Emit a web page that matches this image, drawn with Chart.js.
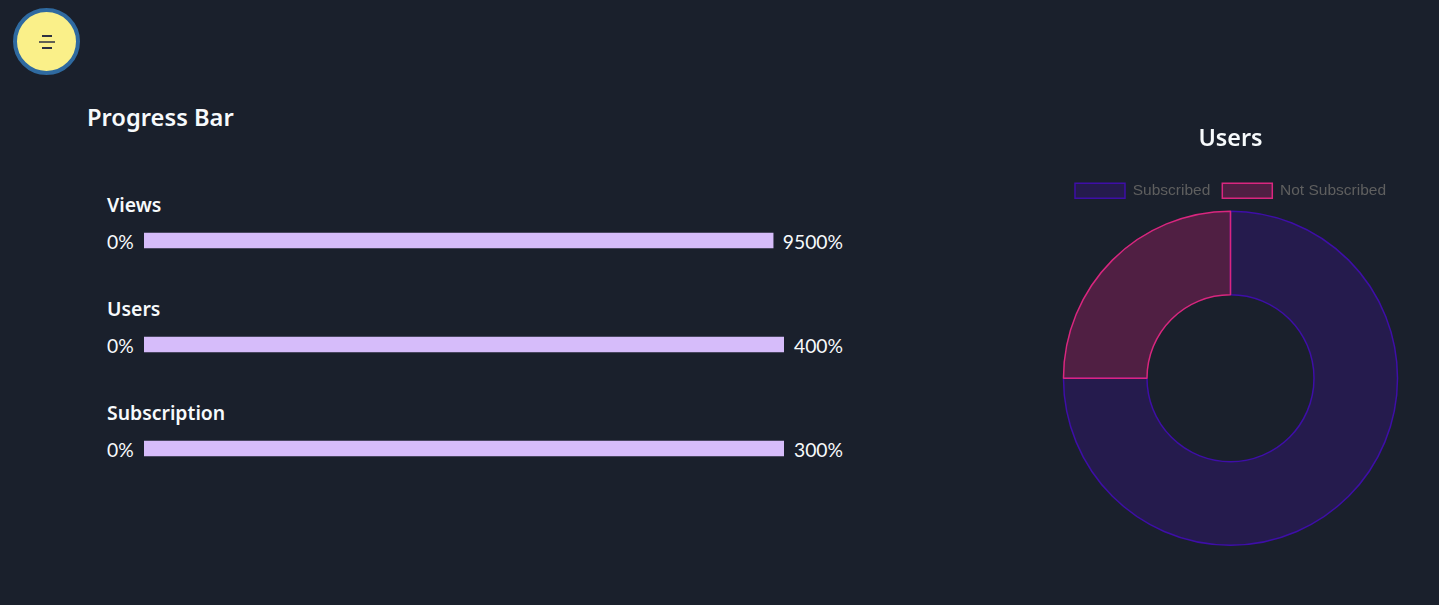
<!DOCTYPE html>
<html>
<head>
<meta charset="utf-8">
<title>Progress Bar</title>
<script src="https://cdn.jsdelivr.net/npm/chart.js@4"></script>
<style>
  html, body { margin:0; padding:0; width:1439px; height:605px; overflow:hidden; background:#1a202c; color:#f7fafc; font-family:"Noto Sans", sans-serif; }
  .abs { position:absolute; white-space:nowrap; line-height:1; }
  #menu { left:13px; top:8px; width:59px; height:59px; border:4px solid #2f6aa0; border-radius:50%; background:#faf089; }
  #menu i { position:absolute; height:2px; background:#2d3142; }
  #heading { left:87px; top:106px; font-size:23.7px; font-weight:600; }
  .name { left:107px; font-size:19.4px; font-weight:600; }
  .val { font-size:19.3px; font-weight:400; font-family:Lato, sans-serif; }
  #barsWrap { position:absolute; left:144px; top:188px; width:640px; height:313px; }
  #pieWrap { position:absolute; left:1050px; top:123px; width:361px; height:423px; }
</style>
</head>
<body>
<div id="menu" class="abs">
  <i style="left:25px;top:23px;width:10px"></i>
  <i style="left:22px;top:29px;width:16px;opacity:.75"></i>
  <i style="left:25px;top:35px;width:10px"></i>
</div>
<div id="heading" class="abs">Progress Bar</div>
<div id="labels"></div>
<div id="barsWrap"><canvas id="chartBars" width="640" height="313"></canvas></div>
<div id="pieWrap"><canvas id="chartUsers" width="361" height="423"></canvas></div>

<script>
const barNames = ['Views', 'Users', 'Subscription'];
const barFill = [98.3, 100, 100];
const startLabels = ['0%', '0%', '0%'];
const endLabels = ['9500%', '400%', '300%'];

const pieLabels = ['Subscribed', 'Not Subscribed'];
const pieValues = [300, 100];

const labels = document.getElementById('labels');
barNames.forEach((name, i) => {
  const top = 104 * i;
  labels.innerHTML += `<div class="abs name" style="top:${195 + top}px">${name}</div>`
    + `<div class="abs val" style="left:107px;top:${232 + top}px">${startLabels[i]}</div>`
    + `<div class="abs val" style="right:${1439 - 843}px;top:${232 + top}px">${endLabels[i]}</div>`;
});

new Chart(document.getElementById('chartBars').getContext('2d'), {
  type: 'bar',
  data: { labels: barNames, datasets: [{ data: barFill, backgroundColor: '#d6bcfa', barThickness: 15 }] },
  options: {
    indexAxis: 'y', responsive: false, animation: false, devicePixelRatio: 1,
    layout: { padding: { top: 0.5, bottom: 0.5 } },
    scales: { x: { display: false, min: 0, max: 100 }, y: { display: false } },
    plugins: { legend: { display: false }, tooltip: { enabled: false } }
  }
});

// a little more room under the legend
const legendGap = {
  id: 'legendGap',
  beforeInit(chart) {
    const fit = chart.legend.fit;
    chart.legend.fit = function () {
      fit.call(this);
      this.height += 2;
    };
  }
};

new Chart(document.getElementById('chartUsers').getContext('2d'), {
  type: 'doughnut',
  plugins: [legendGap],
  data: {
    labels: pieLabels,
    datasets: [{
      data: pieValues,
      backgroundColor: ['rgba(60,20,140,0.35)', 'rgba(214,32,125,0.29)'],
      borderColor: ['#3e0ea8', '#d9267f'],
      borderWidth: 1.5
    }]
  },
  options: {
    responsive: false, animation: false, devicePixelRatio: 1, cutout: '50%',
    plugins: {
      tooltip: { enabled: false },
      title: { display: true, text: 'Users', color: '#f7fafc', font: { family: '"Noto Sans"', size: 23.3, weight: '600' }, padding: { top: 2, bottom: 18 } },
      legend: {
        labels: {
          color: '#5f5f5f', boxWidth: 50, boxHeight: 15, padding: 12,
          font: { family: '"Liberation Sans"', size: 15.5 }
        }
      }
    }
  }
});
</script>
</body>
</html>
